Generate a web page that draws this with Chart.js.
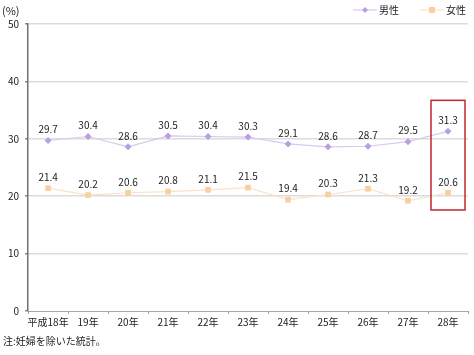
<!DOCTYPE html>
<html><head><meta charset="utf-8">
<script src="https://cdn.jsdelivr.net/npm/chart.js@4/dist/chart.umd.min.js"></script>
<style>
html,body{margin:0;padding:0;background:#fff;}
#wrap{position:relative;width:474px;height:355px;}
canvas{position:absolute;left:0;top:0;}
.t{position:absolute;font-family:"Noto Sans CJK JP",sans-serif;font-size:10px;color:#222;white-space:nowrap;}
</style></head><body>
<div id="wrap">
<canvas id="c" width="474" height="355"></canvas>
<div class="t" style="left:2px;top:2px;font-size:11px;">(%)</div>
<div class="t" style="left:3px;top:333px;">注:妊婦を除いた統計。</div>
</div>
<script>
const categories = ["平成18年","19年","20年","21年","22年","23年","24年","25年","26年","27年","28年"];
const maleValues = [29.7,30.4,28.6,30.5,30.4,30.3,29.1,28.6,28.7,29.5,31.3];
const femaleValues = [21.4,20.2,20.6,20.8,21.1,21.5,19.4,20.3,21.3,19.2,20.6];
const seriesNames = ["男性","女性"];
const yTicks = [0,10,20,30,40,50];
const highlightIndex = 10;

const FONT = '"Noto Sans CJK JP", sans-serif';
const maleLine = '#D9C8F2', maleMark = '#B89EE2';
const femLine = '#FBE2C6', femMark = '#F7CFA0';

const labelPlugin = {
  id:'labels',
  afterDatasetsDraw(chart){
    const ctx = chart.ctx;
    ctx.save();
    ctx.font = '10px ' + FONT;
    ctx.fillStyle = '#222';
    ctx.textAlign = 'center';
    ctx.textBaseline = 'bottom';
    chart.data.datasets.forEach((ds,i)=>{
      chart.getDatasetMeta(i).data.forEach((pt,j)=>{
        ctx.fillText(ds.data[j].toFixed(1), pt.x, pt.y - 6);
      });
    });
    // highlight box
    const xs = chart.scales.x, ys = chart.scales.y;
    const cx = xs.getPixelForValue(highlightIndex);
    const half = 17;
    const top = ys.getPixelForValue(36.7), bot = ys.getPixelForValue(17.6);
    ctx.strokeStyle = '#C0262D';
    ctx.lineWidth = 1.5;
    ctx.strokeRect(cx - half, top, half*2, bot - top);
    // legend
    const items = [{x:353, name:seriesNames[0], line:maleLine, mark:maleMark, shape:'d'},
                   {x:420, name:seriesNames[1], line:femLine, mark:femMark, shape:'s'}];
    const ly = 10;
    items.forEach(it=>{
      ctx.strokeStyle = it.line; ctx.lineWidth = 1.2;
      ctx.beginPath(); ctx.moveTo(it.x, ly); ctx.lineTo(it.x+24, ly); ctx.stroke();
      ctx.fillStyle = it.mark;
      if(it.shape==='d'){
        ctx.beginPath(); ctx.moveTo(it.x+12, ly-3); ctx.lineTo(it.x+15, ly); ctx.lineTo(it.x+12, ly+3); ctx.lineTo(it.x+9, ly); ctx.closePath(); ctx.fill();
      } else {
        ctx.fillRect(it.x+9, ly-3, 6, 6);
      }
      ctx.fillStyle = '#222';
      ctx.textAlign = 'left'; ctx.textBaseline = 'middle';
      ctx.font = '10px ' + FONT;
      ctx.fillText(it.name, it.x+26, ly);
    });
    ctx.restore();
  }
};

new Chart(document.getElementById('c'), {
  type:'line',
  data:{
    labels:categories,
    datasets:[
      {label:seriesNames[0], data:maleValues, borderColor:maleLine, borderWidth:1.2, pointStyle:'rectRot', pointRadius:3.5, pointBackgroundColor:maleMark, pointBorderWidth:0, tension:0},
      {label:seriesNames[1], data:femaleValues, borderColor:femLine, borderWidth:1.2, pointStyle:'rect', pointRadius:4, pointBackgroundColor:femMark, pointBorderWidth:0, tension:0}
    ]
  },
  options:{
    responsive:false, animation:false,
    layout:{padding:{top:24, right:6, left:2, bottom:25}},
    plugins:{legend:{display:false}, tooltip:{enabled:false}},
    scales:{
      x:{
        offset:true,
        grid:{display:true, drawOnChartArea:false, tickLength:3, color:'#A6A6A6', offset:true},
        border:{color:'#A6A6A6', width:1},
        ticks:{font:{family:FONT, size:10}, color:'#222', padding:2, maxRotation:0, autoSkip:false}
      },
      y:{
        min:0, max:50,
        afterBuildTicks(axis){ axis.ticks = yTicks.map(v=>({value:v})); },
        grid:{color:(c)=> c.tick.value===0 ? 'rgba(0,0,0,0)' : '#DCDCDC', tickLength:3, tickColor:'#808080', lineWidth:1.5},
        border:{color:'#707070', width:1.5},
        ticks:{font:{family:FONT, size:10}, color:'#222', padding:6}
      }
    }
  },
  plugins:[labelPlugin]
});
</script>
</body></html>
